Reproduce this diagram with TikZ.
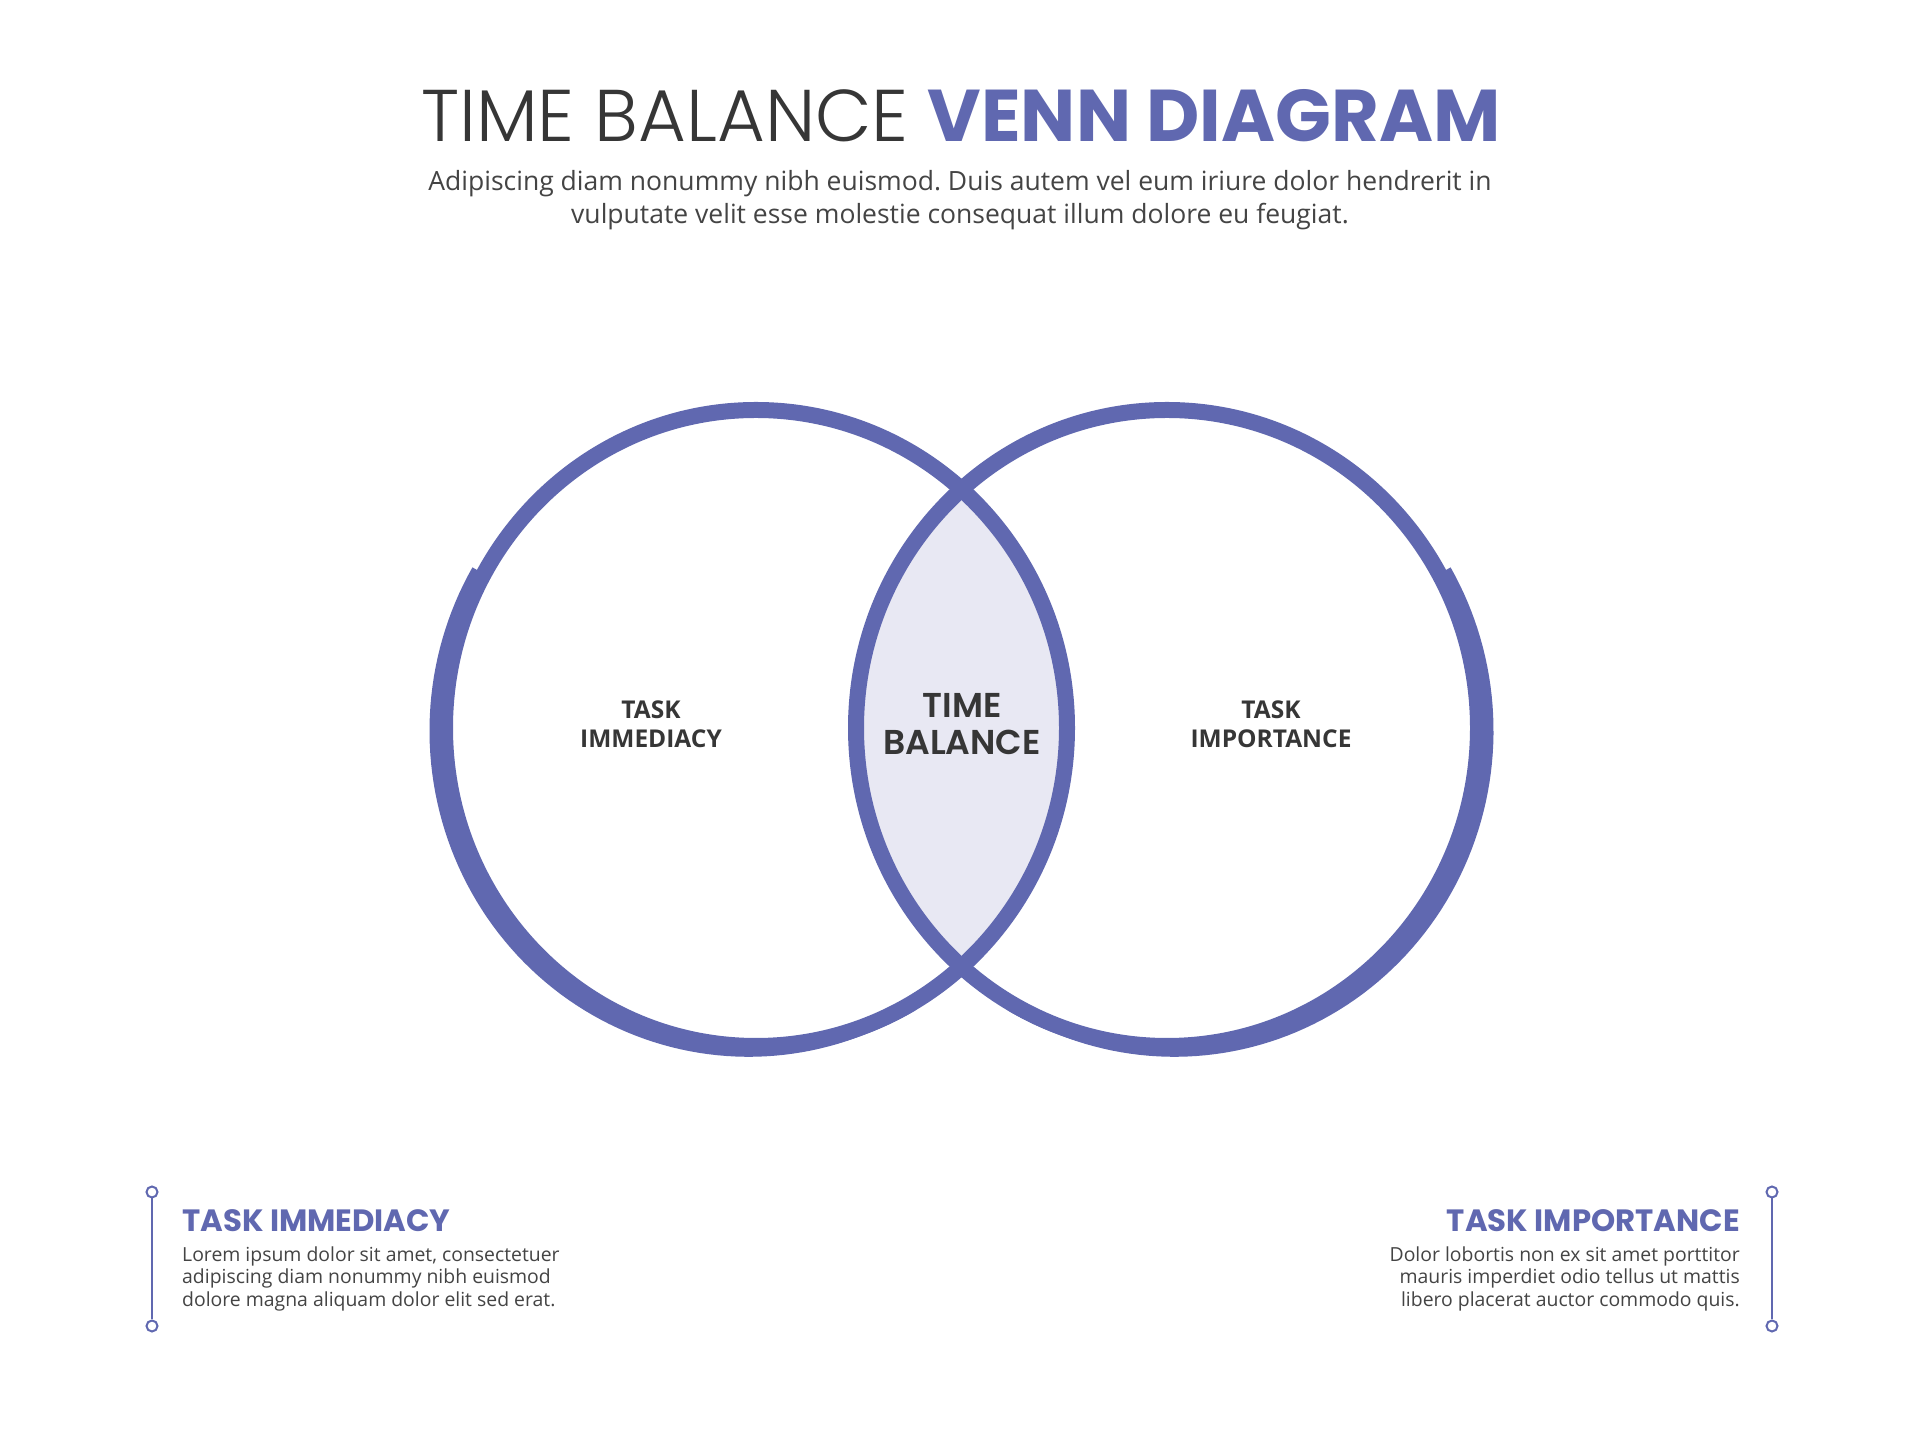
\documentclass[tikz,border=0pt]{standalone}
\usepackage{fontspec}
\setmainfont{Open Sans}
\newfontfamily\poplight{Poppins Light}
\newfontfamily\popbold{Poppins Bold}
\newfontfamily\popsemi{Poppins SemiBold}
\newfontfamily\osans{Open Sans}
\definecolor{vpurple}{HTML}{6068B0}
\definecolor{vlens}{HTML}{E8E8F3}
\definecolor{vdark}{HTML}{363636}
\definecolor{vgray}{HTML}{444444}
\tikzset{
  ring/.style={draw=vpurple, line width=16pt},
  cdot/.style={circle, draw=vpurple, fill=white, line width=2pt, minimum size=11pt, inner sep=0pt},
  tick/.style={draw=vpurple, line width=2.2pt},
  inlabel/.style={align=center, text=vdark, font=\osans\bfseries\fontsize{24.5}{29}\selectfont},
  midlabel/.style={align=center, text=vdark, font=\popsemi\fontsize{34.5}{37}\selectfont},
  headl/.style={text=vpurple, font=\popbold\fontsize{30.8}{34}\selectfont, inner sep=0pt},
  bodyl/.style={text=vgray, font=\osans\fontsize{19.4}{23}\selectfont, inner sep=0pt},
  subl/.style={text=vgray, font=\osans\fontsize{26.5}{33}\selectfont, inner sep=0pt},
}
\frenchspacing
\begin{document}
\frenchspacing
\begin{tikzpicture}[x=1pt,y=1pt]
\useasboundingbox[fill=white] (0,0) rectangle (1920,1440);
\def\RX{311}
\def\RY{318}
\coordinate (cl) at (756,712);
\coordinate (cr) at (1167,712);
% lens
\begin{scope}
  \clip (cl) ellipse [x radius=\RX, y radius=\RY];
  \fill[vlens] (cr) ellipse [x radius=\RX, y radius=\RY];
\end{scope}
% rings
\draw[ring] (cl) ellipse [x radius=\RX, y radius=\RY];
\draw[ring] (cr) ellipse [x radius=\RX, y radius=\RY];
% thicker brush parts
\fill[vpurple, shift={(756,712)}]
  plot[domain=151:300, samples=90] ({(\RX+8+max(0,8*cos(\x-200)))*cos(\x)},{(\RY+8+max(0,8*cos(\x-200)))*sin(\x)})
  -- plot[domain=300:151, samples=90] ({(\RX+6)*cos(\x)},{(\RY+6)*sin(\x)});
\fill[vpurple, shift={(1167,712)}]
  plot[domain=29:-120, samples=90] ({(\RX+8+max(0,8*cos(\x+20)))*cos(\x)},{(\RY+8+max(0,8*cos(\x+20)))*sin(\x)})
  -- plot[domain=-120:29, samples=90] ({(\RX+6)*cos(\x)},{(\RY+6)*sin(\x)});
% title
\node[anchor=base, inner sep=0pt] (title) at (961,1298)
  {\fontsize{73.3}{80}\selectfont{\poplight\color{vdark}TIME BALANCE} {\popbold\color{vpurple}VENN DIAGRAM}};
\node[subl, anchor=base] (sub1) at (960,1249) {Adipiscing diam nonummy nibh euismod. Duis autem vel eum iriure dolor hendrerit in};
\node[subl, anchor=base] (sub2) at (960,1216) {vulputate velit esse molestie consequat illum dolore eu feugiat.};
% circle labels
\node[inlabel] (lbl) at (651,716) {TASK\\IMMEDIACY};
\node[midlabel] (mid) at (962,716) {TIME\\BALANCE};
\node[inlabel] (lbr) at (1271,716) {TASK\\IMPORTANCE};
% bottom left
\node[cdot] (la) at (152,248) {};
\node[cdot] (lb) at (152,114) {};
\draw[tick] (la) -- (lb);
\node[headl, anchor=base west] (hl) at (182,208) {TASK IMMEDIACY};
\node[bodyl, anchor=base west] (bl1) at (182,178) {Lorem ipsum dolor sit amet, consectetuer};
\node[bodyl, anchor=base west] (bl2) at (182,156) {adipiscing diam nonummy nibh euismod};
\node[bodyl, anchor=base west] (bl3) at (182,133) {dolore magna aliquam dolor elit sed erat.};
% bottom right
\node[cdot] (ra) at (1772,248) {};
\node[cdot] (rb) at (1772,114) {};
\draw[tick] (ra) -- (rb);
\node[headl, anchor=base east] (hr) at (1740,208) {TASK IMPORTANCE};
\node[bodyl, anchor=base east] (br1) at (1740,178) {Dolor lobortis non ex sit amet porttitor};
\node[bodyl, anchor=base east] (br2) at (1740,156) {mauris imperdiet odio tellus ut mattis};
\node[bodyl, anchor=base east] (br3) at (1740,133) {libero placerat auctor commodo quis.};
\end{tikzpicture}
\end{document}
